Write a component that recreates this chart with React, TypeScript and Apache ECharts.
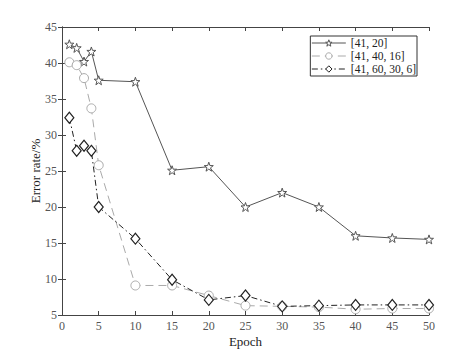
import React, { useEffect, useRef } from "react";
import * as echarts from "echarts";

const epochs = [1, 2, 3, 4, 5, 10, 15, 20, 25, 30, 35, 40, 45, 50];
const s1 = [42.6, 42.1, 40.2, 41.6, 37.6, 37.4, 25.1, 25.6, 20.0, 22.0, 20.0, 16.0, 15.7, 15.5];
const s2 = [40.1, 39.7, 37.9, 33.7, 25.8, 9.1, 9.1, 7.7, 6.3, 6.2, 6.1, 5.8, 5.9, 5.9];
const s3 = [32.4, 27.8, 28.5, 27.8, 20.0, 15.6, 9.9, 7.1, 7.7, 6.2, 6.3, 6.4, 6.4, 6.4];
const names = ["[41, 20]", "[41, 40, 16]", "[41, 60, 30, 6]"];

function starPath(): string {
  const pts: string[] = [];
  for (let i = 0; i < 10; i++) {
    const r = i % 2 === 0 ? 50 : 20;
    const a = -Math.PI / 2 + (i * Math.PI) / 5;
    pts.push(`${(50 + r * Math.cos(a)).toFixed(2)} ${(50 + r * Math.sin(a)).toFixed(2)}`);
  }
  return "path://M" + pts.join(" L") + " Z";
}

const FONT = "Liberation Serif";
const AX = "#444";

export default function App() {
  const ref = useRef<HTMLDivElement>(null);
  useEffect(() => {
    if (!ref.current) return;
    const chart = echarts.init(ref.current, undefined, { renderer: "svg" });
    const mk = (d: number[]) => epochs.map((e, i) => [e, d[i]]);
    const baseX = {
      type: "value" as const,
      min: 0,
      max: 50,
      interval: 5,
      axisLine: { show: true, lineStyle: { color: AX, width: 1 } },
      axisTick: { show: true, inside: true, length: 4, lineStyle: { color: AX } },
      splitLine: { show: false },
    };
    const baseY = {
      type: "value" as const,
      min: 5,
      max: 45,
      interval: 5,
      axisLine: { show: true, lineStyle: { color: AX, width: 1 } },
      axisTick: { show: true, inside: true, length: 4, lineStyle: { color: AX } },
      splitLine: { show: false },
    };
    chart.setOption({
      animation: false,
      backgroundColor: "#fff",
      textStyle: { fontFamily: FONT },
      grid: { left: 62, right: 45, top: 27, bottom: 40 },
      xAxis: [
        {
          ...baseX,
          position: "bottom",
          name: "Epoch",
          nameLocation: "middle",
          nameGap: 20,
          nameMoveOverlap: false,
          nameTextStyle: { fontFamily: FONT, fontSize: 13, color: "#222" },
          axisLabel: { fontFamily: FONT, fontSize: 12, color: "#555", margin: 5 },
        },
        { ...baseX, position: "top", axisLabel: { show: false } },
      ],
      yAxis: [
        {
          ...baseY,
          position: "left",
          name: "Error rate/%",
          nameLocation: "middle",
          nameGap: 20,
          nameMoveOverlap: false,
          nameTextStyle: { fontFamily: FONT, fontSize: 13, color: "#222" },
          axisLabel: { fontFamily: FONT, fontSize: 12, color: "#555", margin: 5 },
        },
        { ...baseY, position: "right", axisLabel: { show: false } },
      ],
      legend: {
        orient: "vertical",
        right: 57,
        top: 36,
        itemWidth: 34,
        itemHeight: 8,
        itemGap: 1,
        padding: [1, 1, 1, 1],
        borderColor: "#333",
        borderWidth: 1,
        backgroundColor: "#fff",
        itemStyle: { color: "#fff", borderWidth: 1 },
        lineStyle: { width: 1 },
        textStyle: { fontFamily: FONT, fontSize: 11.5, lineHeight: 11, color: "#222" },
        data: names,
      },
      series: [
        {
          name: names[0],
          type: "line",
          data: mk(s1),
          symbol: starPath(),
          symbolSize: 9,
          itemStyle: { color: "#fff", borderColor: "#555", borderWidth: 1 },
          lineStyle: { color: "#555", width: 1, type: "solid" },
        },
        {
          name: names[1],
          type: "line",
          data: mk(s2),
          symbol: "circle",
          symbolSize: 9,
          itemStyle: { color: "#fff", borderColor: "#aaa", borderWidth: 1 },
          lineStyle: { color: "#aaa", width: 1, type: [8, 5] },
        },
        {
          name: names[2],
          type: "line",
          data: mk(s3),
          symbol: "diamond",
          symbolSize: [9, 11],
          itemStyle: { color: "#fff", borderColor: "#222", borderWidth: 1.2 },
          lineStyle: { color: "#222", width: 1, type: [6, 3, 1.5, 3] },
        },
      ],
    });
    return () => chart.dispose();
  }, []);
  return (
    <div
      ref={ref}
      style={{ position: "absolute", left: 0, top: 0, width: 474, height: 355 }}
    />
  );
}
